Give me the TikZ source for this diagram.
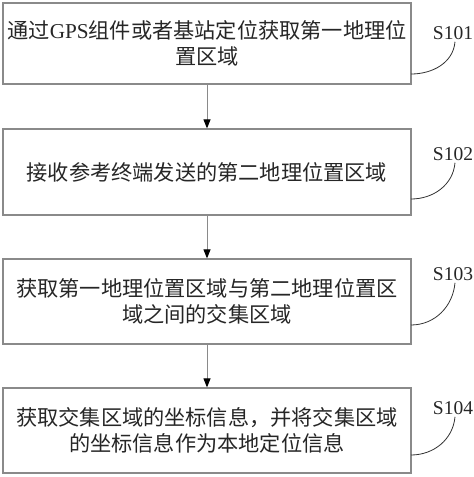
\documentclass[tikz,border=0pt]{standalone}
\usepackage{fontspec}
\setmainfont{Liberation Serif}
\newfontfamily\cjk{Noto Sans CJK SC}
\usetikzlibrary{arrows.meta}
\definecolor{edgegray}{HTML}{8A8A8A}
\tikzset{
  stepbox/.style={draw=edgegray, line width=1.2pt, minimum width=408pt, align=center,
    inner sep=0pt, font=\fontsize{21.2}{26}\selectfont\cjk, text=black!85},
  steplabel/.style={font=\fontsize{19.5}{22}\selectfont, text=black!85, inner sep=2pt},
  flow/.style={draw=edgegray, line width=1pt, -{Triangle[width=7pt,length=9pt,fill=black,color=black]}},
  lead/.style={draw=black!80, line width=0.8pt}
}
\begin{document}
\begin{tikzpicture}[x=1pt,y=-1pt]
\useasboundingbox (0,0) rectangle (474,477);
\node[stepbox, minimum height=81pt] (b1) at (207,43.5) {通过{\rmfamily GPS}组件或者基站定位获取第一地理位\\置区域};
\node[stepbox, minimum height=86pt] (b2) at (207,172) {接收参考终端发送的第二地理位置区域};
\node[stepbox, minimum height=85pt] (b3) at (207,301.5) {获取第一地理位置区域与第二地理位置区\\域之间的交集区域};
\node[stepbox, minimum height=85pt] (b4) at (207,430.5) {获取交集区域的坐标信息，并将交集区域\\的坐标信息作为本地定位信息};
\node[steplabel] (l1) at (453,33) {S101};
\node[steplabel] (l2) at (453,154) {S102};
\node[steplabel] (l3) at (453,274) {S103};
\node[steplabel] (l4) at (453,408) {S104};
\draw[flow] (b1) -- (b2);
\draw[flow] (b2) -- (b3);
\draw[flow] (b3) -- (b4);
\coordinate (c1) at (411,74);
\coordinate (c2) at (411,199);
\coordinate (c3) at (411,325);
\coordinate (c4) at (411,455);
\draw[lead] (c1) to[out=0,in=-95] ([xshift=2pt]l1.south);
\draw[lead] (c2) to[out=0,in=-95] ([xshift=2pt]l2.south);
\draw[lead] (c3) to[out=0,in=-95] ([xshift=2pt]l3.south);
\draw[lead] (c4) to[out=0,in=-95] ([xshift=2pt]l4.south);
\end{tikzpicture}
\end{document}
